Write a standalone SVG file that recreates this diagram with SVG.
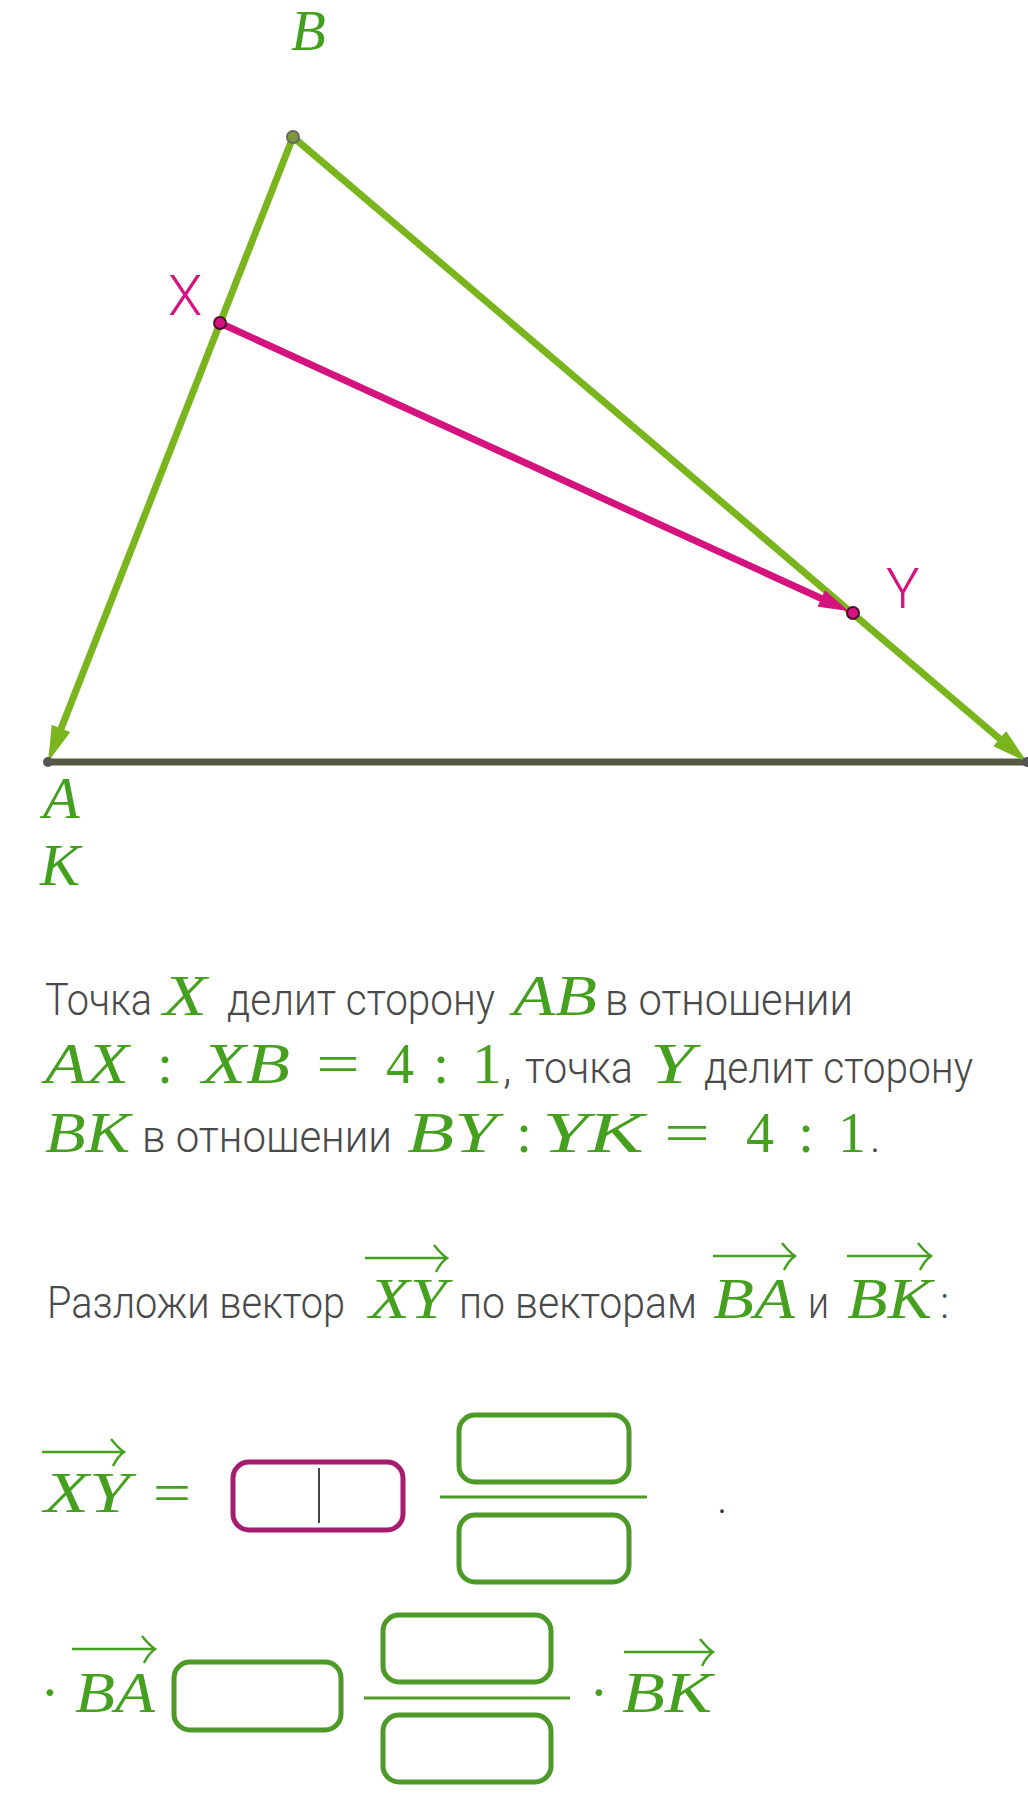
<svg xmlns="http://www.w3.org/2000/svg" width="1028" height="1810" viewBox="0 0 1028 1810">
<defs>
<style>
.t{font-family:Roboto,"Liberation Sans",sans-serif;font-weight:300;font-size:44px;fill:#4a4a4a}
.m{font-family:"Liberation Serif",serif;font-style:italic;font-size:58px;fill:#45a01f}
.n{font-family:"Liberation Serif",serif;font-size:58px;fill:#45a01f}
.lbl{font-family:"Liberation Serif",serif;font-style:italic;font-size:60px;fill:#43a01e}
.pl{font-family:Roboto,"Liberation Sans",sans-serif;font-weight:300;font-size:56px;fill:#d4137f}
.side{stroke:#7ab51d;stroke-width:7;fill:none}
.vec{stroke:#d4137f;stroke-width:7;fill:none}
.base{stroke:#565a45;stroke-width:7}
.box{fill:#fff;stroke:#4e9a28;stroke-width:5}
.fl{stroke:#4e9a28;stroke-width:3}
.va{stroke:#45a01f;stroke-width:2.5;fill:none}
</style>
<marker id="ag" markerUnits="userSpaceOnUse" viewBox="0 0 36 22" markerWidth="36" markerHeight="22" refX="11" refY="11" orient="auto">
<path d="M0,1 L36,11 L0,21 z" fill="#7ab51d"/>
</marker>
<marker id="ap" markerUnits="userSpaceOnUse" viewBox="0 0 30 18" markerWidth="30" markerHeight="18" refX="8" refY="9" orient="auto">
<path d="M0,0 L30,9 L0,18 z" fill="#d4137f"/>
</marker>
<marker id="vh" markerUnits="userSpaceOnUse" viewBox="-16 -16 18 32" markerWidth="18" markerHeight="32" refX="0" refY="0" orient="0" overflow="visible">
<path d="M-13,-13 Q-5,-3 0,0 Q-6,4 -11,14" stroke="#45a01f" stroke-width="2.5" fill="none"/>
</marker>
</defs>
<rect width="1028" height="1810" fill="#fff"/>

<g id="connectors">
<line class="base" x1="48" y1="762" x2="1028" y2="762"/>
<line class="side" x1="293" y1="137" x2="57.1" y2="738.7" marker-end="url(#ag)"/>
<line class="side" x1="293" y1="137" x2="1008" y2="745.8" marker-end="url(#ag)"/>
<line class="vec" x1="220" y1="323" x2="828.5" y2="601.8" marker-end="url(#ap)"/>
</g>

<g id="node-B">
<circle cx="293" cy="137" r="6" fill="#7f9a3a" stroke="#666" stroke-width="2"/>
<text class="lbl" x="291" y="50" style="font-size:57px">B</text>
</g>
<g id="node-A">
<circle cx="48" cy="762" r="5" fill="#555"/>
<text class="lbl" x="43" y="818">A</text>
</g>
<g id="node-K">
<circle cx="1027" cy="762" r="5" fill="#555"/>
<text class="lbl" x="40" y="885">K</text>
</g>
<g id="node-X">
<circle cx="220" cy="323" r="6" fill="#d4137f" stroke="#4a0f2a" stroke-width="2"/>
<text class="pl" x="168" y="315">X</text>
</g>
<g id="node-Y">
<circle cx="853" cy="613" r="6" fill="#d4137f" stroke="#4a0f2a" stroke-width="2"/>
<text class="pl" x="886" y="608">Y</text>
</g>

<g id="statement">
<text class="t" x="45" y="1015" textLength="107" lengthAdjust="spacingAndGlyphs">Точка</text>
<text class="m" x="163" y="1015" textLength="44" lengthAdjust="spacingAndGlyphs">X</text>
<text class="t" x="227" y="1015" textLength="268" lengthAdjust="spacingAndGlyphs">делит сторону</text>
<text class="m" x="513" y="1015" textLength="84" lengthAdjust="spacingAndGlyphs">AB</text>
<text class="t" x="605" y="1015" textLength="248" lengthAdjust="spacingAndGlyphs">в отношении</text>

<text class="m" x="45" y="1083" textLength="84" lengthAdjust="spacingAndGlyphs">AX</text>
<text class="n" x="157" y="1083">:</text>
<text class="m" x="202" y="1083" textLength="88" lengthAdjust="spacingAndGlyphs">XB</text>
<text class="n" x="316" y="1083" textLength="44" lengthAdjust="spacingAndGlyphs">=</text>
<text class="n" x="386" y="1083" textLength="28" lengthAdjust="spacingAndGlyphs">4</text>
<text class="n" x="433" y="1083">:</text>
<text class="n" x="472" y="1083" textLength="30" lengthAdjust="spacingAndGlyphs">1</text>
<text class="t" x="503" y="1083">,</text>
<text class="t" x="525" y="1083" textLength="108" lengthAdjust="spacingAndGlyphs">точка</text>
<text class="m" x="650" y="1083" textLength="44" lengthAdjust="spacingAndGlyphs">Y</text>
<text class="t" x="704" y="1083" textLength="269" lengthAdjust="spacingAndGlyphs">делит сторону</text>

<text class="m" x="45" y="1152" textLength="85" lengthAdjust="spacingAndGlyphs">BK</text>
<text class="t" x="142" y="1152" textLength="250" lengthAdjust="spacingAndGlyphs">в отношении</text>
<text class="m" x="407" y="1152" textLength="90" lengthAdjust="spacingAndGlyphs">BY</text>
<text class="n" x="516" y="1152">:</text>
<text class="m" x="542" y="1152" textLength="102" lengthAdjust="spacingAndGlyphs">YK</text>
<text class="n" x="664" y="1152" textLength="46" lengthAdjust="spacingAndGlyphs">=</text>
<text class="n" x="746" y="1152" textLength="28" lengthAdjust="spacingAndGlyphs">4</text>
<text class="n" x="798" y="1152">:</text>
<text class="n" x="838" y="1152" textLength="28" lengthAdjust="spacingAndGlyphs">1</text>
<text class="t" x="870" y="1152">.</text>

<text class="t" x="47" y="1318" textLength="298" lengthAdjust="spacingAndGlyphs">Разложи вектор</text>
<line class="va" x1="365" y1="1258" x2="447" y2="1258" marker-end="url(#vh)"/>
<text class="m" x="369" y="1318" textLength="78" lengthAdjust="spacingAndGlyphs">XY</text>
<text class="t" x="459" y="1318" textLength="238" lengthAdjust="spacingAndGlyphs">по векторам</text>
<line class="va" x1="713" y1="1256" x2="795" y2="1256" marker-end="url(#vh)"/>
<text class="m" x="713" y="1318" textLength="82" lengthAdjust="spacingAndGlyphs">BA</text>
<text class="t" x="808" y="1318" textLength="21" lengthAdjust="spacingAndGlyphs">и</text>
<line class="va" x1="847" y1="1256" x2="931" y2="1256" marker-end="url(#vh)"/>
<text class="m" x="847" y="1318" textLength="85" lengthAdjust="spacingAndGlyphs">BK</text>
<text class="t" x="940" y="1318">:</text>
</g>

<g id="answer-row-1">
<line class="va" x1="42" y1="1452" x2="124" y2="1452" marker-end="url(#vh)"/>
<text class="m" x="44" y="1512" textLength="86" lengthAdjust="spacingAndGlyphs">XY</text>
<text class="n" x="153" y="1512" textLength="38" lengthAdjust="spacingAndGlyphs">=</text>
<rect x="233" y="1462" width="170" height="68" rx="16" fill="#fff" stroke="#a51d6e" stroke-width="5"/>
<line x1="319" y1="1468" x2="319" y2="1523" stroke="#444" stroke-width="2"/>
<rect class="box" x="459" y="1415" width="170" height="67" rx="16"/>
<line class="fl" x1="440" y1="1497" x2="647" y2="1497"/>
<rect class="box" x="459" y="1515" width="170" height="67" rx="16"/>
<text class="t" x="717" y="1513" style="fill:#333">.</text>
</g>

<g id="answer-row-2">
<text class="n" x="50" y="1712" text-anchor="middle">·</text>
<line class="va" x1="72" y1="1649" x2="155" y2="1649" marker-end="url(#vh)"/>
<text class="m" x="75" y="1712" textLength="80" lengthAdjust="spacingAndGlyphs">BA</text>
<rect class="box" x="174" y="1662" width="167" height="68" rx="16"/>
<rect class="box" x="383" y="1615" width="168" height="67" rx="16"/>
<line class="fl" x1="364" y1="1698" x2="570" y2="1698"/>
<rect class="box" x="383" y="1715" width="168" height="67" rx="16"/>
<text class="n" x="599" y="1712" text-anchor="middle">·</text>
<line class="va" x1="624" y1="1652" x2="713" y2="1652" marker-end="url(#vh)"/>
<text class="m" x="622" y="1712" textLength="90" lengthAdjust="spacingAndGlyphs">BK</text>
</g>
</svg>
